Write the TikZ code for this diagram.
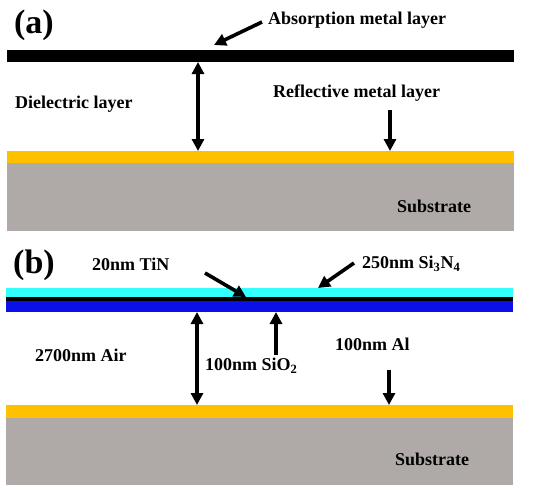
\documentclass[tikz,border=0pt]{standalone}
\usepackage{fontspec}
\setmainfont{Liberation Serif}
\usetikzlibrary{arrows.meta}
\definecolor{gold}{HTML}{FFC000}
\definecolor{subgray}{HTML}{AFAAA8}
\definecolor{cyanl}{HTML}{33FFFF}
\definecolor{blued}{HTML}{0A10E6}
\begin{document}
\begin{tikzpicture}[x=1pt,y=-1pt,
  lbl/.style={font=\bfseries\fontsize{18}{20}\selectfont, inner sep=0pt},
  panel/.style={font=\bfseries\fontsize{34}{36}\selectfont, inner sep=0pt},
  arr/.style={line width=3.6pt, -{Triangle[length=12pt,width=12pt]}},
  darr/.style={line width=3.6pt, {Triangle[length=12pt,width=12pt]}-{Triangle[length=12pt,width=12pt]}}]
\useasboundingbox (0,0) rectangle (550,496);
% ---- panel (a)
\node[panel] (pa) at (34,25) {(a)};
\fill[black] (7,50) rectangle (514,62);
\fill[gold] (7,151) rectangle (514,163);
\fill[subgray] (7,163) rectangle (514,231);
\node[lbl,anchor=west] (abs) at (268,20) {Absorption metal layer};
\node[lbl,anchor=west] (die) at (15,104) {Dielectric layer};
\node[lbl,anchor=west] (ref) at (273,93) {Reflective metal layer};
\node[lbl,anchor=west] (suba) at (397,206) {Substrate};
\coordinate (a1s) at (262,22);
\coordinate (a1e) at (214,45);
\draw[arr] (a1s) -- (a1e);
\coordinate (dat) at (198,62);
\coordinate (dab) at (198,151);
\draw[darr] (dat) -- (dab);
\coordinate (ras) at (390,110);
\coordinate (rae) at (390,151);
\draw[arr] (ras) -- (rae);
% ---- panel (b)
\node[panel] (pb) at (34,265) {(b)};
\fill[cyanl] (6,288) rectangle (513,297);
\fill[black] (6,297) rectangle (513,301);
\fill[blued] (6,301) rectangle (513,312);
\fill[gold] (6,405) rectangle (513,418);
\fill[subgray] (6,418) rectangle (513,485);
\node[lbl,anchor=west] (tin) at (92,264) {20nm TiN};
\node[lbl,anchor=west] (sin) at (362,264) {250nm Si\textsubscript{3}N\textsubscript{4}};
\node[lbl,anchor=west] (air) at (35,355) {2700nm Air};
\node[lbl,anchor=west] (sio) at (205,366) {100nm SiO\textsubscript{2}};
\node[lbl,anchor=west] (al) at (335,344) {100nm Al};
\node[lbl,anchor=west] (subb) at (395,459) {Substrate};
\coordinate (t1s) at (205,273);
\coordinate (t1e) at (246,297);
\draw[arr] (t1s) -- (t1e);
\coordinate (s1s) at (354,263);
\coordinate (s1e) at (318,288);
\draw[arr] (s1s) -- (s1e);
\coordinate (dbt) at (197,312);
\coordinate (dbb) at (197,405);
\draw[darr] (dbt) -- (dbb);
\coordinate (oxs) at (276,355);
\coordinate (oxe) at (276,312);
\draw[arr] (oxs) -- (oxe);
\coordinate (als) at (389,370);
\coordinate (ale) at (389,405);
\draw[arr] (als) -- (ale);
\end{tikzpicture}
\end{document}
